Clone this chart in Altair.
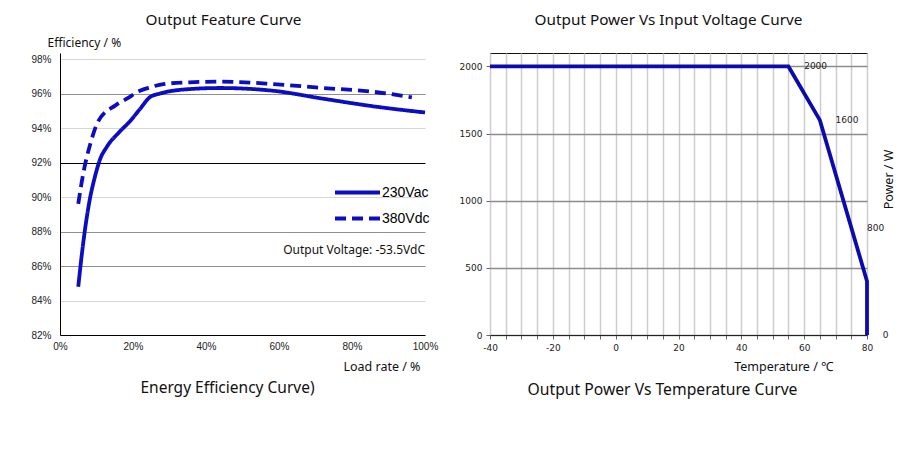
import altair as alt
import pandas as pd

# ---------------- Left panel: efficiency curves ----------------
load_230 = [5, 6.4, 8.2, 9.6, 11, 12.8, 16.4, 19.2, 21.9, 24.7, 27.4, 35.6, 43.8, 58.4, 72.1, 85.8, 100]
eff_230 = [84.8, 87.4, 89.9, 91.2, 92.2, 92.9, 93.8, 94.4, 95.1, 95.8, 96.0, 96.26, 96.32, 96.16, 95.7, 95.26, 94.9]
load_380 = [5, 6.4, 8.2, 10.5, 15.1, 18.3, 21.9, 24.7, 28.3, 35.6, 43.8, 58.4, 72.1, 85.8, 96.4]
eff_380 = [89.6, 91.4, 93.0, 94.4, 95.3, 95.7, 96.16, 96.36, 96.55, 96.65, 96.69, 96.55, 96.32, 96.1, 95.78]
series_names = ["230Vac", "380Vdc"]
eff_ticks = [82, 84, 86, 88, 90, 92, 94, 96, 98]
load_ticks = [0, 20, 40, 60, 80, 100]
note_text = ["Output Voltage: -53.5VdC"]
note_load = [100]
note_eff = [86.9]

# ---------------- Right panel: power vs temperature ----------------
temp = [-40, 55, 65, 80, 80]
power = [2000, 2000, 1600, 400, 0]
temp_ticks = [-40, -35, -30, -25, -20, -15, -10, -5, 0, 5, 10, 15, 20, 25, 30, 35, 40, 45, 50, 55, 60, 65, 70, 75, 80]
power_ticks = [0, 500, 1000, 1500, 2000]
plabel_text = ["2000", "1600", "800", "0"]
plabel_power = [2000, 1600, 800, 0]
plabel_temp = [60, 70, 80, 85]

BLUE_L = "#0c0cc2"
BLUE_R = "#0a0aae"
TFONT = "Noto Sans"

eff_df = pd.DataFrame({
    "load": load_230 + load_380,
    "eff": eff_230 + eff_380,
    "series": [series_names[0]] * len(load_230) + [series_names[1]] * len(load_380),
})
note_df = pd.DataFrame({"load": note_load, "eff": note_eff, "text": note_text})

x_scale_l = alt.Scale(domain=[0, 100], nice=False, zero=False)
y_scale_l = alt.Scale(domain=[82, 98.35], nice=False, zero=False)

grid_cond = {
    "condition": [
        {"test": "datum.value == 92", "value": "#000000"},
        {"test": "datum.value == 96 || datum.value == 88 || datum.value == 86", "value": "#8f8f8f"},
    ],
    "value": "#d6d6d6",
}

y_axis_l = alt.Axis(
    orient="left", values=eff_ticks, labelExpr="datum.value + '%'", ticks=False, grid=True,
    gridColor=grid_cond, gridWidth=1, domainColor="#000",
    labelFont="Liberation Sans", labelFontSize=10, labelColor="#222", labelPadding=9,
    title="Efficiency / %", titleAngle=0, titleAlign="left", titleBaseline="middle",
    titleX=-13, titleY=-11, titleFont=TFONT, titleFontSize=12, titleFontWeight="normal",
    titleColor="#111")

lines = alt.Chart(eff_df).mark_line(interpolate="monotone", strokeWidth=3.8, color=BLUE_L).encode(
    x=alt.X("load:Q", scale=x_scale_l, axis=alt.Axis(
        orient="bottom", values=load_ticks, labelExpr="datum.value + '%'", ticks=False, grid=False,
        domainColor="#000", labelFont="Liberation Sans", labelFontSize=10, labelColor="#222",
        labelPadding=6, labelFlush=False,
        title="Load rate / %", titleFont=TFONT, titleFontSize=12.5, titleFontWeight="normal",
        titleColor="#111", titleAlign="right", titleX=360, titleY=31, titleBaseline="middle")),
    y=alt.Y("eff:Q", scale=y_scale_l, axis=y_axis_l),
    strokeDash=alt.StrokeDash("series:N", scale=alt.Scale(domain=series_names, range=[[1, 0], [11, 6]]),
        legend=alt.Legend(title=None, orient="none", legendX=273, legendY=130,
                          symbolType="M-1,0L5,0", symbolSize=225, symbolStrokeWidth=4,
                          symbolStrokeColor=BLUE_L,
                          labelFont="Liberation Sans", labelFontSize=14, labelColor="#000",
                          rowPadding=8, padding=0, labelOffset=30)),
)

note = alt.Chart(note_df).mark_text(align="right", baseline="middle", font=TFONT, fontSize=12, color="#111").encode(
    x=alt.X("load:Q", scale=x_scale_l, axis=alt.Axis(
        orient="bottom", domain=False, ticks=False, labels=False, grid=False,
        title="Energy Efficiency Curve)", titleFont=TFONT, titleFontSize=15.5, titleFontWeight="normal",
        titleColor="#111", titleX=167, titleY=52, titleAlign="center", titleBaseline="middle")),
    y=alt.Y("eff:Q", scale=y_scale_l, axis=y_axis_l),
    text="text:N",
)

left = alt.layer(lines, note).resolve_scale(x="independent").properties(
    width=365, height=282,
    title=alt.Title("Output Feature Curve", font=TFONT, fontSize=15.3, fontWeight="normal", color="#111",
                    anchor="middle", frame="group", dx=-19, offset=8),
)

# right
pw_df = pd.DataFrame({"i": list(range(len(temp))), "temp": temp, "power": power})
lab_df = pd.DataFrame({"temp": plabel_temp, "power": plabel_power, "text": plabel_text})
x_scale_r = alt.Scale(domain=[-40, 80], nice=False, zero=False)
y_scale_r = alt.Scale(domain=[0, 2100], nice=False, zero=False)

labels = alt.Chart(lab_df).mark_text(align="left", baseline="middle", font="DejaVu Sans", fontSize=9, color="#222").encode(
    x=alt.X("temp:Q", scale=x_scale_r, axis=alt.Axis(
        orient="bottom", domain=False, ticks=False, labels=False, grid=False,
        title="Output Power Vs Temperature Curve", titleFont=TFONT, titleFontSize=15.7, titleFontWeight="normal",
        titleColor="#111", titleX=172, titleY=54, titleAlign="center", titleBaseline="middle")),
    y=alt.Y("power:Q", scale=y_scale_r, axis=alt.Axis(
        orient="right", domain=False, ticks=False, labels=False, grid=False,
        title="Power / W", titleFont=TFONT, titleFontSize=12.5, titleFontWeight="normal", titleColor="#111",
        titleAngle=270, titleX=21, titleY=126, titleAlign="center", titleBaseline="middle")),
    text="text:N",
)

pline = alt.Chart(pw_df).mark_line(strokeWidth=3.8, color=BLUE_R).encode(
    x=alt.X("temp:Q", scale=x_scale_r, axis=alt.Axis(
        orient="bottom", values=temp_ticks, labelExpr="datum.value % 20 == 0 ? '' + datum.value : ''",
        tickSize=4, tickColor="#666", grid=True, gridColor="#cdcdcd", gridWidth=1.5,
        domainColor="#222", labelFont="DejaVu Sans", labelFontSize=9, labelColor="#222",
        labelPadding=4, labelFlush=False, labelOverlap=False,
        title="Temperature / ℃", titleFont=TFONT, titleFontSize=12.5, titleFontWeight="normal",
        titleColor="#111", titleAlign="right", titleX=343, titleY=31, titleBaseline="middle")),
    y=alt.Y("power:Q", scale=y_scale_r, axis=alt.Axis(
        orient="left", values=power_ticks, format="d", tickSize=4, tickColor="#666", grid=True,
        gridColor="#8c8c8c", gridWidth=1.5,
        domain=False, labelFont="DejaVu Sans", labelFontSize=9, labelColor="#222", labelPadding=4,
        labelFlush=False, title=None)),
    order="i:Q",
)

right = alt.layer(labels, pline).resolve_scale(x="independent", y="independent").properties(
    width=377, height=282,
    view=alt.ViewBackground(stroke="#111", strokeWidth=1),
    title=alt.Title("Output Power Vs Input Voltage Curve", font=TFONT, fontSize=15.3, fontWeight="normal",
                    color="#111", anchor="middle", frame="group", dx=-10, offset=25),
)

chart = alt.hconcat(left, right, spacing=65, bounds="flush").configure_view(stroke=None).properties(
    padding={"left": 22, "top": 4, "right": 5, "bottom": 5},
    background="white",
)

chart.save("out.html", embed_options={"renderer": "svg", "actions": False})
